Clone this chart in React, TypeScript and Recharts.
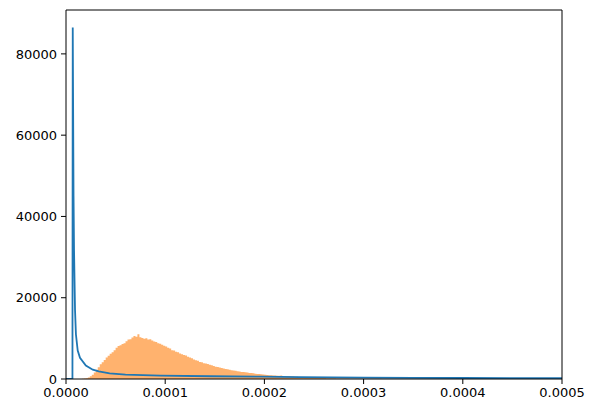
import { ComposedChart, Area, Line, XAxis, YAxis, ReferenceLine } from "recharts";

// histogram: bins of 2e-6 starting at 1.4e-5
const histStart = 0.000014;
const histWidth = 0.000002;
const histCounts = [
  30, 60, 110, 200, 380, 650, 1050, 1600, 2300, 2900, 3600, 4100, 4700, 5300, 5700, 6200,
  6600, 7100, 7700, 8100, 8300, 8600, 8800, 9300, 9700, 9800, 10200, 10600, 10400, 11000,
  10300, 10100, 9900, 10000, 9700, 9800, 9500, 9200, 9100, 8800, 8700, 8400, 8200, 8000,
  7700, 7500, 7100, 7000, 6700, 6600, 6300, 6100, 5900, 5800, 5500, 5300, 5100, 4800, 4600,
  4500, 4200, 4100, 3900, 3800, 3700, 3500, 3400, 3200, 3000, 2950, 2800, 2700, 2600, 2450,
  2400, 2250, 2150, 2100, 2000, 1900, 1850, 1750, 1700, 1650, 1600, 1500, 1450, 1400, 1300,
  1250, 1200, 1150, 1100, 1050, 1000, 950, 900, 880, 850, 820, 800, 850, 750, 720, 690, 650,
  640, 600, 580, 560, 520, 500, 470, 440, 410, 390, 360, 340, 320, 300, 280, 260, 240, 220,
  210, 190, 180, 170, 160, 150, 140, 130, 120, 110, 100, 95, 90, 80, 75, 70, 65, 60, 55, 50,
  48, 45, 42, 40, 38, 35, 33, 31, 29, 27, 25, 24, 23, 22, 21, 20, 19, 18, 17, 16, 15, 14, 13,
  12, 11,
];

// fitted density curve
const pdfX = [
  0, 0.0000065, 0.0000068, 0.0000076, 0.0000081, 0.0000091, 0.00001, 0.0000118, 0.0000141,
  0.00002, 0.000027, 0.000033, 0.000044, 0.00006, 0.000095, 0.000145, 0.000196, 0.000236,
  0.0003, 0.00035, 0.0004, 0.00045, 0.0005,
];
const pdfY = [
  0, 0, 86500, 45000, 31700, 17000, 11000, 7000, 5200, 3300, 2300, 1860, 1400, 1100, 850,
  680, 560, 450, 360, 300, 250, 220, 190,
];

const xTicks = [0, 0.0001, 0.0002, 0.0003, 0.0004, 0.0005];
const yTicks = [0, 20000, 40000, 60000, 80000];
const xMax = 0.0005;
const yMax = 90800;

type Row = { x: number; hist?: number; pdf?: number };

function buildRows(): Row[] {
  const m = new Map<number, Row>();
  const get = (x: number) => {
    const k = Math.round(x * 1e10);
    let r = m.get(k);
    if (!r) {
      r = { x };
      m.set(k, r);
    }
    return r;
  };
  histCounts.forEach((c, i) => {
    get(histStart + i * histWidth).hist = c;
  });
  get(histStart + histCounts.length * histWidth).hist = 0;
  pdfX.forEach((x, i) => {
    get(x).pdf = pdfY[i];
  });
  return [...m.values()].sort((a, b) => a.x - b.x);
}

const rows = buildRows();
const font = { fill: "#000", fontSize: 13, fontFamily: "DejaVu Sans" };

export default function App() {
  return (
    <div style={{ position: "absolute", left: 0, top: 0, background: "#fff" }}>
      <ComposedChart
        width={593}
        height={413}
        data={rows}
        margin={{ top: 10, right: 31, bottom: 4, left: 6 }}
      >
        <XAxis
          dataKey="x"
          type="number"
          domain={[0, xMax]}
          ticks={xTicks}
          allowDataOverflow
          tickFormatter={(v: number) => v.toFixed(4)}
          tick={font}
          tickSize={5}
          tickMargin={4}
          height={30}
          axisLine={{ stroke: "#000", strokeWidth: 1 }}
          tickLine={{ stroke: "#000" }}
          interval={0}
        />
        <YAxis
          type="number"
          domain={[0, yMax]}
          ticks={yTicks}
          allowDataOverflow
          tick={font}
          tickSize={5}
          tickMargin={4}
          width={60}
          axisLine={{ stroke: "#000", strokeWidth: 1 }}
          tickLine={{ stroke: "#000" }}
          interval={0}
        />
        <Area
          dataKey="hist"
          type="stepAfter"
          fill="#ffb26e"
          fillOpacity={1}
          stroke="none"
          connectNulls
          isAnimationActive={false}
          dot={false}
          activeDot={false}
        />
        <Line
          dataKey="pdf"
          type="linear"
          stroke="#1f77b4"
          strokeWidth={1.8}
          dot={false}
          activeDot={false}
          connectNulls
          isAnimationActive={false}
        />
        <ReferenceLine y={yMax} stroke="#000" strokeWidth={1} ifOverflow="visible" />
        <ReferenceLine x={xMax} stroke="#000" strokeWidth={1} ifOverflow="visible" />
      </ComposedChart>
    </div>
  );
}
